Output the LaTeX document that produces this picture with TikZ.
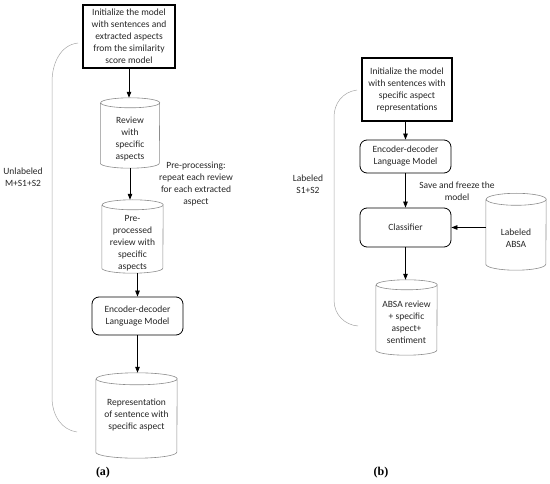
\documentclass[tikz,border=0pt]{standalone}
\usepackage{fontspec}
\setmainfont{Carlito}
\newfontfamily\capfont{Liberation Serif}
\usetikzlibrary{arrows.meta,calc}
\newcommand{\mkcyl}[6]{%
  \node[inner sep=0, minimum width=#4pt, minimum height=#5pt] (#1) at (#2,#3) {};
  \draw[cylline] (#1.north west) -- (#1.south west)
     arc[start angle=180, end angle=360, x radius=#4pt/2, y radius=#6pt]
     -- (#1.north east)
     arc[start angle=0, end angle=360, x radius=#4pt/2, y radius=#6pt];
  \coordinate (#1-top) at ([yshift=#6pt]#1.north);
  \coordinate (#1-bot) at ([yshift=-#6pt]#1.south);
}
\begin{document}
\begin{tikzpicture}[x=1pt,y=-1pt,
  txt/.style={font=\fontsize{9.5}{12}\selectfont, align=center, text=black!85},
  initbox/.style={txt, draw, line width=1.4pt, inner sep=0},
  rbox/.style={txt, draw, rounded corners=7pt, line width=0.8pt, inner sep=0},
  arr/.style={-{Triangle[length=6pt,width=4.5pt]}, line width=0.8pt},
  cylline/.style={draw=black!45, line width=0.6pt},
  brk/.style={draw=black!35, line width=0.5pt}]
\useasboundingbox (0,0) rectangle (550,484);

% ---------- panel (a)
\node[initbox, minimum width=92pt, minimum height=63pt] (boxa) at (129,36.5)
  {Initialize the model\\with sentences and\\extracted aspects\\from the similarity\\score model};
\mkcyl{c1}{130}{133}{59}{60}{5}
\node[txt] (c1t) at (130,139) {Review\\with\\specific\\aspects};
\mkcyl{c2}{132.5}{236.5}{61}{63}{5}
\node[txt] (c2t) at (132.5,243) {Pre-\\processed\\review with\\specific\\aspects};
\node[rbox, minimum width=91pt, minimum height=38pt] (enca) at (137.5,316)
  {Encoder-decoder\\Language Model};
\mkcyl{c3}{136.5}{415.5}{81}{73}{6}
\node[txt] (c3t) at (136.5,415) {Representation\\of sentence with\\specific aspect};
\node[txt] (pre) at (196,184) {Pre-processing:\\repeat each review\\for each extracted\\aspect};
\node[txt] (unl) at (23,177) {Unlabeled\\M+S1+S2};
\node[font=\capfont\bfseries\fontsize{12}{14}\selectfont] (capa) at (103,473) {(a)};

\draw[arr] (boxa.south) -- (boxa.south |- c1-top);
\draw[arr] (c1-bot) -- (c1-bot |- c2-top);
\draw[arr] (c2-bot -| enca.north) -- (enca.north);
\draw[arr] (enca.south) -- (enca.south |- c3-top);

\draw[brk] (78,43) .. controls (60,45) and (52,64) .. (52,82) -- (52,397)
  .. controls (52,416) and (62,430) .. (77,432);

% ---------- panel (b)
\node[initbox, minimum width=90pt, minimum height=63pt] (boxb) at (407,89.5)
  {Initialize the model\\with sentences with\\specific aspect\\representations};
\node[rbox, minimum width=91pt, minimum height=33pt] (encb) at (405.5,156.5)
  {Encoder-decoder\\Language Model};
\node[rbox, minimum width=91pt, minimum height=39pt] (cls) at (405.5,227.5) {Classifier};
\mkcyl{cl}{516}{231.75}{60}{64.5}{6}
\node[txt] (clt) at (516,238) {Labeled\\ABSA};
\mkcyl{cr}{406.5}{317.5}{61}{65}{5}
\node[txt] (crt) at (406.5,322) {ABSA review\\+ specific\\aspect+\\sentiment};
\node[txt] (save) at (457,191.5) {Save and freeze the\\model};
\node[txt] (lab) at (308,184) {Labeled\\S1+S2};
\node[font=\capfont\bfseries\fontsize{12}{14}\selectfont] (capb) at (381,473) {(b)};

\draw[arr] (boxb.south -| encb.north) -- (encb.north);
\draw[arr] (encb.south) -- (cls.north);
\draw[arr] (cl.west |- cls.east) -- (cls.east);
\draw[arr] (cls.south) -- (cls.south |- cr-top);

\draw[brk] (357,90) .. controls (342,92) and (334,104) .. (334,117) -- (334,300)
  .. controls (334,315) and (345,325) .. (358,326);
\end{tikzpicture}
\end{document}
